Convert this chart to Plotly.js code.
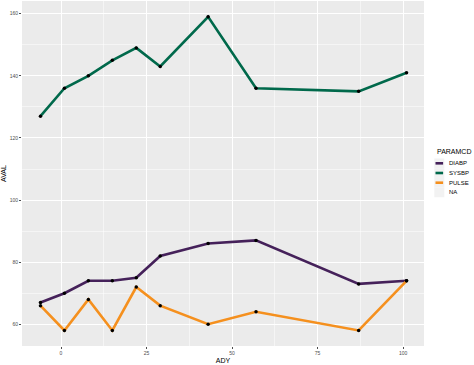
<!DOCTYPE html>
<html>
<head>
<meta charset="utf-8">
<script src="https://cdn.plot.ly/plotly-3.0.1.min.js"></script>
<style>html,body{margin:0;padding:0;background:#fff;}#chart{width:474px;height:365px;}</style>
</head>
<body>
<div id="chart"></div>
<script>
const ady = [-6, 1, 8, 15, 22, 29, 43, 57, 87, 101];
const diabp = [67, 70, 74, 74, 75, 82, 86, 87, 73, 74];
const sysbp = [127, 136, 140, 145, 149, 143, 159, 136, 135, 141];
const pulse = [66, 58, 68, 58, 72, 66, 60, 64, 58, 74];
const seriesNames = ['DIABP', 'SYSBP', 'PULSE', 'NA'];
const seriesColors = ['#45215a', '#00694b', '#f5901e', null];
const xTicks = [0, 25, 50, 75, 100];
const yTicks = [60, 80, 100, 120, 140, 160];

const values = [diabp, sysbp, pulse];
const traces = [];
values.forEach((v, i) => {
  traces.push({
    x: ady, y: v, type: 'scatter', mode: 'lines',
    name: seriesNames[i], showlegend: false,
    line: {color: seriesColors[i], width: 2.6}
  });
});
values.forEach((v, i) => {
  traces.push({
    x: ady, y: v, type: 'scatter', mode: 'markers', showlegend: false,
    marker: {color: '#000', size: 3.5}, hoverinfo: 'skip'
  });
});

// manual ggplot-style legend (paper coordinates)
const plotL = 22, plotW = 402, plotB = 346, plotH = 345;
const px2x = p => (p - plotL) / plotW;
const py2y = p => (plotB - p) / plotH;
const shapes = [];
const annotations = [];
annotations.push({xref: 'paper', yref: 'paper', x: px2x(434.5), y: py2y(151), xanchor: 'left', yanchor: 'middle',
  text: 'PARAMCD', showarrow: false, font: {size: 7, color: '#000'}});
seriesNames.forEach((n, i) => {
  const cy = 163.3 + 9.7 * i;
  shapes.push({type: 'rect', xref: 'paper', yref: 'paper', layer: 'above',
    x0: px2x(434.3), x1: px2x(444.3), y0: py2y(cy + 4.85), y1: py2y(cy - 4.85),
    fillcolor: '#f2f2f2', line: {width: 0}});
  if (seriesColors[i]) {
    shapes.push({type: 'line', xref: 'paper', yref: 'paper', layer: 'above',
      x0: px2x(435.5), x1: px2x(443.1), y0: py2y(cy), y1: py2y(cy),
      line: {color: seriesColors[i], width: 2.6}});
  }
  annotations.push({xref: 'paper', yref: 'paper', x: px2x(446.5), y: py2y(cy), xanchor: 'left', yanchor: 'middle',
    text: n, showarrow: false, font: {size: 6, color: '#000'}});
});

const layout = {
  width: 474, height: 365,
  margin: {l: 22, r: 50, t: 1, b: 19},
  paper_bgcolor: '#ffffff', plot_bgcolor: '#ebebeb',
  font: {family: 'Liberation Sans, Arial, sans-serif', color: '#4d4d4d'},
  showlegend: false,
  xaxis: {
    range: [-11.4, 106.1], tickvals: xTicks, ticktext: xTicks.map(String),
    showgrid: true, gridcolor: '#ffffff', gridwidth: 1, zeroline: false,
    ticks: 'outside', ticklen: 2, tickcolor: '#4d4d4d', tickfont: {size: 5, color: '#4d4d4d'},
    minor: {showgrid: true, gridcolor: '#ffffff', gridwidth: 0.5, tickvals: [-12.5, 12.5, 37.5, 62.5, 87.5], ticks: ''},
    title: {text: 'ADY', font: {size: 7, color: '#000'}, standoff: 3},
    showline: false
  },
  yaxis: {
    range: [53.0, 164.1], tickvals: yTicks, ticktext: yTicks.map(String),
    showgrid: true, gridcolor: '#ffffff', gridwidth: 1, zeroline: false,
    ticks: 'outside', ticklen: 2, tickcolor: '#4d4d4d', tickfont: {size: 5, color: '#4d4d4d'},
    minor: {showgrid: true, gridcolor: '#ffffff', gridwidth: 0.5, tickvals: [70, 90, 110, 130, 150], ticks: ''},
    title: {text: 'AVAL', font: {size: 7, color: '#000'}, standoff: 3},
    showline: false
  },
  shapes: shapes,
  annotations: annotations
};

Plotly.newPlot('chart', traces, layout, {displayModeBar: false, staticPlot: true});
</script>
</body>
</html>
